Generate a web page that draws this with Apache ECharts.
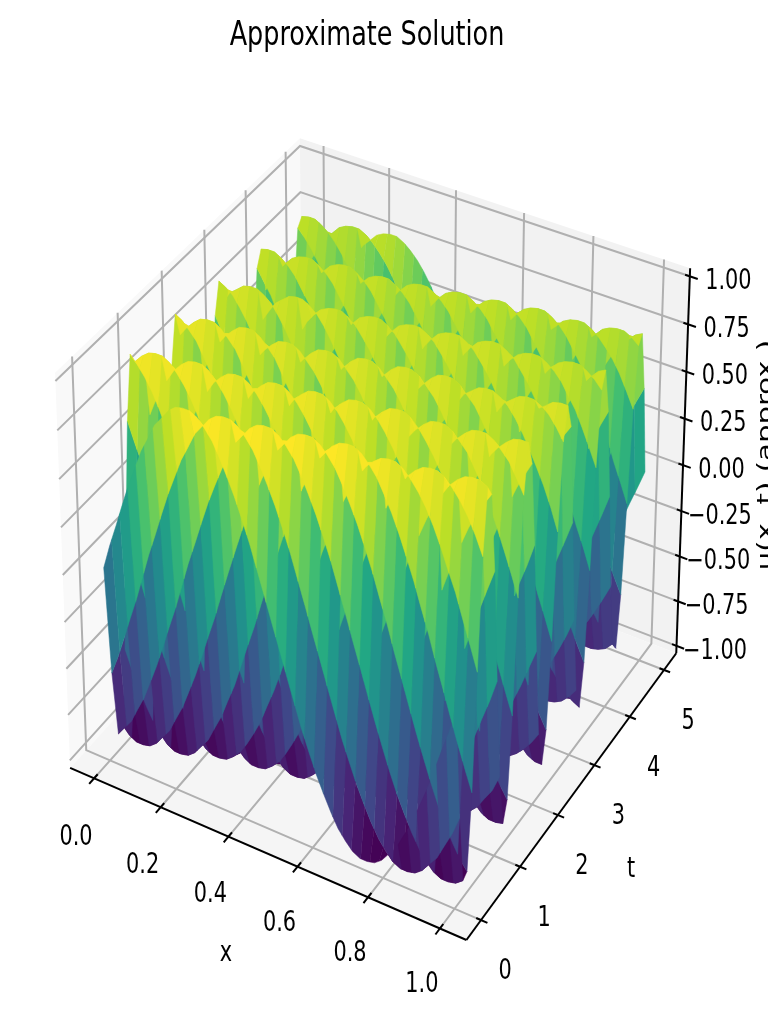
<!DOCTYPE html>
<html><head><meta charset="utf-8">
<style>html,body{margin:0;padding:0;background:#fff}#c{width:768px;height:1024px}</style>
<script src="https://cdn.jsdelivr.net/npm/echarts@6/dist/echarts.min.js"></script>
</head><body><div id="c"></div>
<script>
const xValues=[0,.02,.041,.061,.082,.102,.122,.143,.163,.184,.204,.224,.245,.265,.286,.306,.327,.347,.367,.388,.408,.429,.449,.469,.49,.51,.531,.551,.571,.592,.612,.633,.653,.673,.694,.714,.735,.755,.776,.796,.816,.837,.857,.878,.898,.918,.939,.959,.98,1];
const tValues=[0,.102,.204,.306,.408,.51,.612,.714,.816,.918,1.02,1.122,1.224,1.327,1.429,1.531,1.633,1.735,1.837,1.939,2.041,2.143,2.245,2.347,2.449,2.551,2.653,2.755,2.857,2.959,3.061,3.163,3.265,3.367,3.469,3.571,3.673,3.776,3.878,3.98,4.082,4.184,4.286,4.388,4.49,4.592,4.694,4.796,4.898,5];
const uRows=[
[0,.13,.25,.37,.49,.59,.69,.77,.85,.9,.95,.98,.99,.99,.97,.93,.88,.81,.73,.64,.54,.43,.31,.19,.06,-.06,-.19,-.31,-.43,-.54,-.64,-.73,-.81,-.88,-.93,-.97,-.99,-.99,-.98,-.95,-.9,-.85,-.77,-.69,-.59,-.49,-.37,-.25,-.13,0],
[-.59,-.49,-.37,-.25,-.13,0,.13,.25,.37,.49,.59,.69,.77,.85,.9,.95,.98,.99,.99,.97,.93,.88,.81,.73,.64,.54,.43,.31,.19,.06,-.06,-.19,-.31,-.43,-.54,-.64,-.73,-.81,-.88,-.93,-.97,-.99,-.99,-.98,-.95,-.9,-.85,-.77,-.69,-.59],
[-.95,-.9,-.85,-.77,-.69,-.59,-.49,-.37,-.25,-.13,0,.13,.25,.37,.49,.59,.69,.77,.85,.9,.95,.98,.99,.99,.97,.93,.88,.81,.73,.64,.54,.43,.31,.19,.06,-.06,-.19,-.31,-.43,-.54,-.64,-.73,-.81,-.88,-.93,-.97,-.99,-.99,-.98,-.95],
[-.93,-.97,-.99,-.99,-.98,-.95,-.9,-.85,-.77,-.69,-.59,-.49,-.37,-.25,-.13,0,.13,.25,.37,.49,.59,.69,.77,.85,.9,.95,.98,.99,.99,.97,.93,.88,.81,.73,.64,.54,.43,.31,.19,.06,-.06,-.19,-.31,-.43,-.54,-.64,-.73,-.81,-.88,-.93],
[-.54,-.64,-.73,-.81,-.88,-.93,-.97,-.99,-.99,-.98,-.95,-.9,-.85,-.77,-.69,-.59,-.49,-.37,-.25,-.13,0,.13,.25,.37,.49,.59,.69,.77,.85,.9,.95,.98,.99,.99,.97,.93,.88,.81,.73,.64,.54,.43,.31,.19,.06,-.06,-.19,-.31,-.43,-.54],
[.06,-.06,-.18,-.3,-.42,-.52,-.62,-.71,-.79,-.85,-.9,-.94,-.96,-.96,-.95,-.92,-.88,-.82,-.75,-.67,-.57,-.47,-.36,-.24,-.12,0,.12,.24,.36,.47,.57,.67,.75,.82,.88,.92,.95,.96,.96,.94,.9,.85,.79,.71,.62,.52,.42,.3,.18,.06],
[.62,.52,.42,.3,.18,.06,-.06,-.18,-.3,-.42,-.52,-.62,-.71,-.79,-.85,-.9,-.94,-.96,-.96,-.95,-.92,-.88,-.82,-.75,-.67,-.57,-.47,-.36,-.24,-.12,0,.12,.24,.36,.47,.57,.67,.75,.82,.88,.92,.95,.96,.96,.94,.9,.85,.79,.71,.62],
[.94,.9,.85,.79,.71,.62,.52,.42,.3,.18,.06,-.06,-.18,-.3,-.42,-.52,-.62,-.71,-.79,-.85,-.9,-.94,-.96,-.96,-.95,-.92,-.88,-.82,-.75,-.67,-.57,-.47,-.36,-.24,-.12,0,.12,.24,.36,.47,.57,.67,.75,.82,.88,.92,.95,.96,.96,.94],
[.88,.92,.95,.96,.96,.94,.9,.85,.79,.71,.62,.52,.42,.3,.18,.06,-.06,-.18,-.3,-.42,-.52,-.62,-.71,-.79,-.85,-.9,-.94,-.96,-.96,-.95,-.92,-.88,-.82,-.75,-.67,-.57,-.47,-.36,-.24,-.12,0,.12,.24,.36,.47,.57,.67,.75,.82,.88],
[.47,.57,.67,.75,.82,.88,.92,.95,.96,.96,.94,.9,.85,.79,.71,.62,.52,.42,.3,.18,.06,-.06,-.18,-.3,-.42,-.52,-.62,-.71,-.79,-.85,-.9,-.94,-.96,-.96,-.95,-.92,-.88,-.82,-.75,-.67,-.57,-.47,-.36,-.24,-.12,0,.12,.24,.36,.47],
[-.12,0,.12,.24,.35,.46,.56,.65,.74,.8,.86,.9,.93,.94,.94,.92,.88,.83,.77,.7,.61,.51,.41,.3,.18,.06,-.06,-.18,-.3,-.41,-.51,-.61,-.7,-.77,-.83,-.88,-.92,-.94,-.94,-.93,-.9,-.86,-.8,-.74,-.65,-.56,-.46,-.35,-.24,-.12],
[-.65,-.56,-.46,-.35,-.24,-.12,0,.12,.24,.35,.46,.56,.65,.74,.8,.86,.9,.93,.94,.94,.92,.88,.83,.77,.7,.61,.51,.41,.3,.18,.06,-.06,-.18,-.3,-.41,-.51,-.61,-.7,-.77,-.83,-.88,-.92,-.94,-.94,-.93,-.9,-.86,-.8,-.74,-.65],
[-.93,-.9,-.86,-.8,-.74,-.65,-.56,-.46,-.35,-.24,-.12,0,.12,.24,.35,.46,.56,.65,.74,.8,.86,.9,.93,.94,.94,.92,.88,.83,.77,.7,.61,.51,.41,.3,.18,.06,-.06,-.18,-.3,-.41,-.51,-.61,-.7,-.77,-.83,-.88,-.92,-.94,-.94,-.93],
[-.83,-.88,-.92,-.94,-.94,-.93,-.9,-.86,-.8,-.74,-.65,-.56,-.46,-.35,-.24,-.12,0,.12,.24,.35,.46,.56,.65,.74,.8,.86,.9,.93,.94,.94,.92,.88,.83,.77,.7,.61,.51,.41,.3,.18,.06,-.06,-.18,-.3,-.41,-.51,-.61,-.7,-.77,-.83],
[-.41,-.51,-.61,-.7,-.77,-.83,-.88,-.92,-.94,-.94,-.93,-.9,-.86,-.8,-.74,-.65,-.56,-.46,-.35,-.24,-.12,0,.12,.24,.35,.46,.56,.65,.74,.8,.86,.9,.93,.94,.94,.92,.88,.83,.77,.7,.61,.51,.41,.3,.18,.06,-.06,-.18,-.3,-.41],
[.18,.06,-.06,-.18,-.29,-.4,-.5,-.6,-.68,-.75,-.82,-.86,-.9,-.92,-.92,-.91,-.88,-.84,-.79,-.72,-.64,-.55,-.45,-.35,-.23,-.12,0,.12,.23,.35,.45,.55,.64,.72,.79,.84,.88,.91,.92,.92,.9,.86,.82,.75,.68,.6,.5,.4,.29,.18],
[.68,.6,.5,.4,.29,.18,.06,-.06,-.18,-.29,-.4,-.5,-.6,-.68,-.75,-.82,-.86,-.9,-.92,-.92,-.91,-.88,-.84,-.79,-.72,-.64,-.55,-.45,-.35,-.23,-.12,0,.12,.23,.35,.45,.55,.64,.72,.79,.84,.88,.91,.92,.92,.9,.86,.82,.75,.68],
[.92,.9,.86,.82,.75,.68,.6,.5,.4,.29,.18,.06,-.06,-.18,-.29,-.4,-.5,-.6,-.68,-.75,-.82,-.86,-.9,-.92,-.92,-.91,-.88,-.84,-.79,-.72,-.64,-.55,-.45,-.35,-.23,-.12,0,.12,.23,.35,.45,.55,.64,.72,.79,.84,.88,.91,.92,.92],
[.79,.84,.88,.91,.92,.92,.9,.86,.82,.75,.68,.6,.5,.4,.29,.18,.06,-.06,-.18,-.29,-.4,-.5,-.6,-.68,-.75,-.82,-.86,-.9,-.92,-.92,-.91,-.88,-.84,-.79,-.72,-.64,-.55,-.45,-.35,-.23,-.12,0,.12,.23,.35,.45,.55,.64,.72,.79],
[.35,.45,.55,.64,.72,.79,.84,.88,.91,.92,.92,.9,.86,.82,.75,.68,.6,.5,.4,.29,.18,.06,-.06,-.18,-.29,-.4,-.5,-.6,-.68,-.75,-.82,-.86,-.9,-.92,-.92,-.91,-.88,-.84,-.79,-.72,-.64,-.55,-.45,-.35,-.23,-.12,0,.12,.23,.35],
[-.23,-.11,0,.11,.23,.33,.44,.53,.62,.7,.76,.81,.85,.88,.89,.89,.87,.83,.79,.73,.66,.58,.49,.39,.28,.17,.06,-.06,-.17,-.28,-.39,-.49,-.58,-.66,-.73,-.79,-.83,-.87,-.89,-.89,-.88,-.85,-.81,-.76,-.7,-.62,-.53,-.44,-.33,-.23],
[-.7,-.62,-.53,-.44,-.33,-.23,-.11,0,.11,.23,.33,.44,.53,.62,.7,.76,.81,.85,.88,.89,.89,.87,.83,.79,.73,.66,.58,.49,.39,.28,.17,.06,-.06,-.17,-.28,-.39,-.49,-.58,-.66,-.73,-.79,-.83,-.87,-.89,-.89,-.88,-.85,-.81,-.76,-.7],
[-.89,-.88,-.85,-.81,-.76,-.7,-.62,-.53,-.44,-.33,-.23,-.11,0,.11,.23,.33,.44,.53,.62,.7,.76,.81,.85,.88,.89,.89,.87,.83,.79,.73,.66,.58,.49,.39,.28,.17,.06,-.06,-.17,-.28,-.39,-.49,-.58,-.66,-.73,-.79,-.83,-.87,-.89,-.89],
[-.73,-.79,-.83,-.87,-.89,-.89,-.88,-.85,-.81,-.76,-.7,-.62,-.53,-.44,-.33,-.23,-.11,0,.11,.23,.33,.44,.53,.62,.7,.76,.81,.85,.88,.89,.89,.87,.83,.79,.73,.66,.58,.49,.39,.28,.17,.06,-.06,-.17,-.28,-.39,-.49,-.58,-.66,-.73],
[-.28,-.39,-.49,-.58,-.66,-.73,-.79,-.83,-.87,-.89,-.89,-.88,-.85,-.81,-.76,-.7,-.62,-.53,-.44,-.33,-.23,-.11,0,.11,.23,.33,.44,.53,.62,.7,.76,.81,.85,.88,.89,.89,.87,.83,.79,.73,.66,.58,.49,.39,.28,.17,.06,-.06,-.17,-.28],
[.27,.17,.06,-.06,-.17,-.27,-.38,-.48,-.56,-.64,-.71,-.77,-.82,-.85,-.87,-.87,-.86,-.83,-.8,-.74,-.68,-.61,-.52,-.43,-.33,-.22,-.11,0,.11,.22,.33,.43,.52,.61,.68,.74,.8,.83,.86,.87,.87,.85,.82,.77,.71,.64,.56,.48,.38,.27],
[.71,.64,.56,.48,.38,.27,.17,.06,-.06,-.17,-.27,-.38,-.48,-.56,-.64,-.71,-.77,-.82,-.85,-.87,-.87,-.86,-.83,-.8,-.74,-.68,-.61,-.52,-.43,-.33,-.22,-.11,0,.11,.22,.33,.43,.52,.61,.68,.74,.8,.83,.86,.87,.87,.85,.82,.77,.71],
[.87,.85,.82,.77,.71,.64,.56,.48,.38,.27,.17,.06,-.06,-.17,-.27,-.38,-.48,-.56,-.64,-.71,-.77,-.82,-.85,-.87,-.87,-.86,-.83,-.8,-.74,-.68,-.61,-.52,-.43,-.33,-.22,-.11,0,.11,.22,.33,.43,.52,.61,.68,.74,.8,.83,.86,.87,.87],
[.74,.8,.83,.86,.87,.87,.85,.82,.77,.71,.64,.56,.48,.38,.27,.17,.06,-.06,-.17,-.27,-.38,-.48,-.56,-.64,-.71,-.77,-.82,-.85,-.87,-.87,-.86,-.83,-.8,-.74,-.68,-.61,-.52,-.43,-.33,-.22,-.11,0,.11,.22,.33,.43,.52,.61,.68,.74],
[.22,.33,.43,.52,.61,.68,.74,.8,.83,.86,.87,.87,.85,.82,.77,.71,.64,.56,.48,.38,.27,.17,.06,-.06,-.17,-.27,-.38,-.48,-.56,-.64,-.71,-.77,-.82,-.85,-.87,-.87,-.86,-.83,-.8,-.74,-.68,-.61,-.52,-.43,-.33,-.22,-.11,0,.11,.22],
[-.32,-.22,-.11,0,.11,.22,.32,.42,.51,.59,.66,.73,.78,.82,.84,.85,.85,.83,.8,.75,.7,.63,.55,.46,.37,.27,.16,.05,-.05,-.16,-.27,-.37,-.46,-.55,-.63,-.7,-.75,-.8,-.83,-.85,-.85,-.84,-.82,-.78,-.73,-.66,-.59,-.51,-.42,-.32],
[-.73,-.66,-.59,-.51,-.42,-.32,-.22,-.11,0,.11,.22,.32,.42,.51,.59,.66,.73,.78,.82,.84,.85,.85,.83,.8,.75,.7,.63,.55,.46,.37,.27,.16,.05,-.05,-.16,-.27,-.37,-.46,-.55,-.63,-.7,-.75,-.8,-.83,-.85,-.85,-.84,-.82,-.78,-.73],
[-.85,-.85,-.84,-.82,-.78,-.73,-.66,-.59,-.51,-.42,-.32,-.22,-.11,0,.11,.22,.32,.42,.51,.59,.66,.73,.78,.82,.84,.85,.85,.83,.8,.75,.7,.63,.55,.46,.37,.27,.16,.05,-.05,-.16,-.27,-.37,-.46,-.55,-.63,-.7,-.75,-.8,-.83,-.85],
[-.63,-.7,-.75,-.8,-.83,-.85,-.85,-.84,-.82,-.78,-.73,-.66,-.59,-.51,-.42,-.32,-.22,-.11,0,.11,.22,.32,.42,.51,.59,.66,.73,.78,.82,.84,.85,.85,.83,.8,.75,.7,.63,.55,.46,.37,.27,.16,.05,-.05,-.16,-.27,-.37,-.46,-.55,-.63],
[-.16,-.27,-.37,-.46,-.55,-.63,-.7,-.75,-.8,-.83,-.85,-.85,-.84,-.82,-.78,-.73,-.66,-.59,-.51,-.42,-.32,-.22,-.11,0,.11,.22,.32,.42,.51,.59,.66,.73,.78,.82,.84,.85,.85,.83,.8,.75,.7,.63,.55,.46,.37,.27,.16,.05,-.05,-.16],
[.36,.26,.16,.05,-.05,-.16,-.26,-.36,-.45,-.54,-.62,-.68,-.74,-.78,-.81,-.83,-.83,-.82,-.8,-.76,-.71,-.65,-.58,-.5,-.41,-.31,-.21,-.11,0,.11,.21,.31,.41,.5,.58,.65,.71,.76,.8,.82,.83,.83,.81,.78,.74,.68,.62,.54,.45,.36],
[.74,.68,.62,.54,.45,.36,.26,.16,.05,-.05,-.16,-.26,-.36,-.45,-.54,-.62,-.68,-.74,-.78,-.81,-.83,-.83,-.82,-.8,-.76,-.71,-.65,-.58,-.5,-.41,-.31,-.21,-.11,0,.11,.21,.31,.41,.5,.58,.65,.71,.76,.8,.82,.83,.83,.81,.78,.74],
[.82,.83,.83,.81,.78,.74,.68,.62,.54,.45,.36,.26,.16,.05,-.05,-.16,-.26,-.36,-.45,-.54,-.62,-.68,-.74,-.78,-.81,-.83,-.83,-.82,-.8,-.76,-.71,-.65,-.58,-.5,-.41,-.31,-.21,-.11,0,.11,.21,.31,.41,.5,.58,.65,.71,.76,.8,.82],
[.58,.65,.71,.76,.8,.82,.83,.83,.81,.78,.74,.68,.62,.54,.45,.36,.26,.16,.05,-.05,-.16,-.26,-.36,-.45,-.54,-.62,-.68,-.74,-.78,-.81,-.83,-.83,-.82,-.8,-.76,-.71,-.65,-.58,-.5,-.41,-.31,-.21,-.11,0,.11,.21,.31,.41,.5,.58],
[.11,.21,.31,.41,.5,.58,.65,.71,.76,.8,.82,.83,.83,.81,.78,.74,.68,.62,.54,.45,.36,.26,.16,.05,-.05,-.16,-.26,-.36,-.45,-.54,-.62,-.68,-.74,-.78,-.81,-.83,-.83,-.82,-.8,-.76,-.71,-.65,-.58,-.5,-.41,-.31,-.21,-.11,0,.11],
[-.4,-.3,-.21,-.1,0,.1,.21,.3,.4,.48,.56,.63,.69,.74,.78,.8,.81,.81,.79,.76,.72,.66,.6,.52,.44,.35,.26,.15,.05,-.05,-.15,-.26,-.35,-.44,-.52,-.6,-.66,-.72,-.76,-.79,-.81,-.81,-.8,-.78,-.74,-.69,-.63,-.56,-.48,-.4],
[-.74,-.69,-.63,-.56,-.48,-.4,-.3,-.21,-.1,0,.1,.21,.3,.4,.48,.56,.63,.69,.74,.78,.8,.81,.81,.79,.76,.72,.66,.6,.52,.44,.35,.26,.15,.05,-.05,-.15,-.26,-.35,-.44,-.52,-.6,-.66,-.72,-.76,-.79,-.81,-.81,-.8,-.78,-.74],
[-.79,-.81,-.81,-.8,-.78,-.74,-.69,-.63,-.56,-.48,-.4,-.3,-.21,-.1,0,.1,.21,.3,.4,.48,.56,.63,.69,.74,.78,.8,.81,.81,.79,.76,.72,.66,.6,.52,.44,.35,.26,.15,.05,-.05,-.15,-.26,-.35,-.44,-.52,-.6,-.66,-.72,-.76,-.79],
[-.52,-.6,-.66,-.72,-.76,-.79,-.81,-.81,-.8,-.78,-.74,-.69,-.63,-.56,-.48,-.4,-.3,-.21,-.1,0,.1,.21,.3,.4,.48,.56,.63,.69,.74,.78,.8,.81,.81,.79,.76,.72,.66,.6,.52,.44,.35,.26,.15,.05,-.05,-.15,-.26,-.35,-.44,-.52],
[-.05,-.15,-.26,-.35,-.44,-.52,-.6,-.66,-.72,-.76,-.79,-.81,-.81,-.8,-.78,-.74,-.69,-.63,-.56,-.48,-.4,-.3,-.21,-.1,0,.1,.21,.3,.4,.48,.56,.63,.69,.74,.78,.8,.81,.81,.79,.76,.72,.66,.6,.52,.44,.35,.26,.15,.05,-.05],
[.43,.34,.25,.15,.05,-.05,-.15,-.25,-.34,-.43,-.51,-.59,-.65,-.7,-.74,-.77,-.79,-.79,-.78,-.76,-.72,-.68,-.62,-.55,-.47,-.39,-.3,-.2,-.1,0,.1,.2,.3,.39,.47,.55,.62,.68,.72,.76,.78,.79,.79,.77,.74,.7,.65,.59,.51,.43],
[.74,.7,.65,.59,.51,.43,.34,.25,.15,.05,-.05,-.15,-.25,-.34,-.43,-.51,-.59,-.65,-.7,-.74,-.77,-.79,-.79,-.78,-.76,-.72,-.68,-.62,-.55,-.47,-.39,-.3,-.2,-.1,0,.1,.2,.3,.39,.47,.55,.62,.68,.72,.76,.78,.79,.79,.77,.74],
[.78,.79,.79,.77,.74,.7,.65,.59,.51,.43,.34,.25,.15,.05,-.05,-.15,-.25,-.34,-.43,-.51,-.59,-.65,-.7,-.74,-.77,-.79,-.79,-.78,-.76,-.72,-.68,-.62,-.55,-.47,-.39,-.3,-.2,-.1,0,.1,.2,.3,.39,.47,.55,.62,.68,.72,.76,.78],
[.47,.55,.62,.68,.72,.76,.78,.79,.79,.77,.74,.7,.65,.59,.51,.43,.34,.25,.15,.05,-.05,-.15,-.25,-.34,-.43,-.51,-.59,-.65,-.7,-.74,-.77,-.79,-.79,-.78,-.76,-.72,-.68,-.62,-.55,-.47,-.39,-.3,-.2,-.1,0,.1,.2,.3,.39,.47],
[0,.1,.2,.3,.39,.47,.55,.62,.68,.72,.76,.78,.79,.79,.77,.74,.7,.65,.59,.51,.43,.34,.25,.15,.05,-.05,-.15,-.25,-.34,-.43,-.51,-.59,-.65,-.7,-.74,-.77,-.79,-.79,-.78,-.76,-.72,-.68,-.62,-.55,-.47,-.39,-.3,-.2,-.1,0]
];
const xTicks=[0,.2,.4,.6,.8,1];
const xTickLabels=['0.0','0.2','0.4','0.6','0.8','1.0'];
const tTicks=[0,1,2,3,4,5];
const tTickLabels=['0','1','2','3','4','5'];
const zTicks=[-1,-.75,-.5,-.25,0,.25,.5,.75,1];
const zTickLabels=['\u22121.00','\u22120.75','\u22120.50','\u22120.25','0.00','0.25','0.50','0.75','1.00'];
const titleText='Approximate Solution';
const xName='x',tName='t',zName='u(x, t) (approx.)';
const viridis=['#440154','#482475','#414487','#355f8d','#2a788e','#21918c','#22a884','#44bf70','#7ad151','#bddf26','#fde725'];
const COLOR_BANDS=38;

// view of the 3D box (elevation 30, azimuth -60)
const xLim=[-.05,1.05],tLim=[-.25,5.25],zLim=[-1,1];
const box=[1.1905,1.1905,.8929];
const U=[.866025,.5,0],V=[-.25,.433013,.866025],W=[.433013,-.75,.5],DIST=10;
function norm(v,l){return (v-l[0])/(l[1]-l[0]);}
function projN(nx,ny,nz){
  const d=[box[0]*(nx-.5),box[1]*(ny-.5),box[2]*(nz-.5)];
  const dot=(a)=>a[0]*d[0]+a[1]*d[1]+a[2]*d[2];
  const dep=dot(W),s=1/(DIST-dep);
  return [dot(U)*s,dot(V)*s,dep];
}
function proj(x,t,z){return projN(norm(x,xLim),norm(t,tLim),norm(z,zLim));}
const LO=-1/48,HI=49/48;
const W_PX=768,H_PX=1024,SX=3660,CX=379,SY=4840,CY=519;

// the surface outline follows the data rows; each flat-coloured band spans several x samples
function rowAt(i,x){
  let j=0;
  while(j<xValues.length-2&&xValues[j+1]<x)j++;
  const f=(x-xValues[j])/(xValues[j+1]-xValues[j]);
  return uRows[i][j]+(uRows[i][j+1]-uRows[i][j])*f;
}
function rowEdge(i,x0,x1){
  const out=[[x0,tValues[i],rowAt(i,x0)]];
  xValues.forEach((x,j)=>{if(x>x0+1e-6&&x<x1-1e-6)out.push([x,tValues[i],uRows[i][j]]);});
  out.push([x1,tValues[i],rowAt(i,x1)]);
  return out;
}
const quads=[];
let minA=Infinity,maxA=-Infinity;
for(let i=0;i<tValues.length-1;i++)for(let c=0;c<COLOR_BANDS;c++){
  const x0=c/COLOR_BANDS,x1=(c+1)/COLOR_BANDS;
  const outline=rowEdge(i,x0,x1).concat(rowEdge(i+1,x0,x1).reverse());
  const pts=outline.map(p=>proj(p[0],p[1],p[2]));
  const avg=outline.reduce((s,p)=>s+p[2],0)/outline.length;
  const dep=pts.reduce((s,p)=>s+p[2],0)/pts.length;
  minA=Math.min(minA,avg);maxA=Math.max(maxA,avg);
  quads.push({pts,avg,dep});
}
quads.sort((a,b)=>a.dep-b.dep);
quads.forEach(q=>{q.color=echarts.color.lerp((q.avg-minA)/(maxA-minA),viridis);});

// box panes and grid lines
const panes=[
 {c:'#f9f9f9',p:[[LO,LO,LO],[LO,HI,LO],[LO,HI,HI],[LO,LO,HI]]},
 {c:'#f2f2f2',p:[[LO,HI,LO],[HI,HI,LO],[HI,HI,HI],[LO,HI,HI]]},
 {c:'#f5f5f5',p:[[LO,LO,LO],[HI,LO,LO],[HI,HI,LO],[LO,HI,LO]]}
];
const gridLines=[];
xTicks.forEach(v=>{const n=norm(v,xLim);gridLines.push([[n,LO,LO],[n,HI,LO],[n,HI,HI]]);});
tTicks.forEach(v=>{const n=norm(v,tLim);gridLines.push([[HI,n,LO],[LO,n,LO],[LO,n,HI]]);});
zTicks.forEach(v=>{const n=norm(v,zLim);gridLines.push([[LO,LO,n],[LO,HI,n],[HI,HI,n]]);});
const axisLines=[[[LO,LO,LO],[HI,LO,LO]],[[HI,LO,LO],[HI,HI,LO]],[[HI,HI,LO],[HI,HI,HI]]];
xTicks.forEach(v=>{const n=norm(v,xLim);axisLines.push([[n,LO-.02,LO],[n,LO+.015,LO]]);});
tTicks.forEach(v=>{const n=norm(v,tLim);axisLines.push([[HI-.012,n,LO],[HI+.016,n,LO]]);});
zTicks.forEach(v=>{const n=norm(v,zLim);axisLines.push([[HI-.012,HI,n],[HI+.02,HI,n]]);});

// text
const FS=13.9,TX=1.5,TY=2;
const texts=[];
xTicks.forEach((v,i)=>texts.push({n:[norm(v,xLim),LO,LO],dx:-18,dy:59-3*v,s:xTickLabels[i]}));
tTicks.forEach((v,i)=>texts.push({n:[HI,norm(v,tLim),LO],dx:24,dy:52,s:tTickLabels[i]}));
zTicks.forEach((v,i)=>texts.push({n:[HI,HI,norm(v,zLim)],dx:38.5,dy:5.5,s:zTickLabels[i]}));
const fixedTexts=[
 {px:[367,36],s:titleText,fs:16.67,sx:1.53},
 {px:[226,954],s:xName},
 {px:[631,870],s:tName},
 {px:[767,455],s:zName,rot:Math.PI/2}
];

function polyStyle(c){return {fill:c,stroke:c,lineWidth:.5};}
function series(items,render,z){
  return {type:'custom',coordinateSystem:'cartesian2d',clip:false,silent:true,animation:false,z,
    data:items.map(()=>[0,0]),
    renderItem:(params,api)=>render(items[params.dataIndex],api)};
}
const pn=(n,api)=>{const p=projN(n[0],n[1],n[2]);return api.coord([p[0],p[1]]);};
const chart=echarts.init(document.getElementById('c'),null,{renderer:'canvas'});
const textEl=(x,y,o)=>({type:'text',x,y,rotation:o.rot||0,scaleX:o.rot?2.1:(o.sx||TX),scaleY:o.rot?TX:TY,
  style:{text:o.s,fill:'#000',fontFamily:'DejaVu Sans',fontSize:o.fs||FS,align:'center',verticalAlign:'middle',textAlign:'center',textVerticalAlign:'middle'}});
chart.setOption({
  animation:false,
  grid:{left:0,top:0,right:0,bottom:0},
  xAxis:{type:'value',show:false,min:(0-CX)/SX,max:(W_PX-CX)/SX},
  yAxis:{type:'value',show:false,min:(CY-H_PX)/SY,max:CY/SY},
  series:[
    series(panes,(o,api)=>({type:'polygon',shape:{points:o.p.map(n=>pn(n,api))},style:{fill:o.c}}),1),
    series(gridLines,(o,api)=>({type:'polyline',shape:{points:o.map(n=>pn(n,api))},style:{fill:'none',stroke:'#b0b0b0',lineWidth:2}}),2),
    series(axisLines,(o,api)=>({type:'polyline',shape:{points:o.map(n=>pn(n,api))},style:{fill:'none',stroke:'#000',lineWidth:2}}),3),
    series(quads,(q,api)=>({type:'polygon',shape:{points:q.pts.map(p=>api.coord([p[0],p[1]]))},style:polyStyle(q.color)}),4),
    series(texts,(o,api)=>{const c=pn(o.n,api);return textEl(c[0]+o.dx,c[1]+o.dy,o);},5),
    series(fixedTexts,(o)=>textEl(o.px[0],o.px[1],o),5)
  ]
});
</script></body></html>
